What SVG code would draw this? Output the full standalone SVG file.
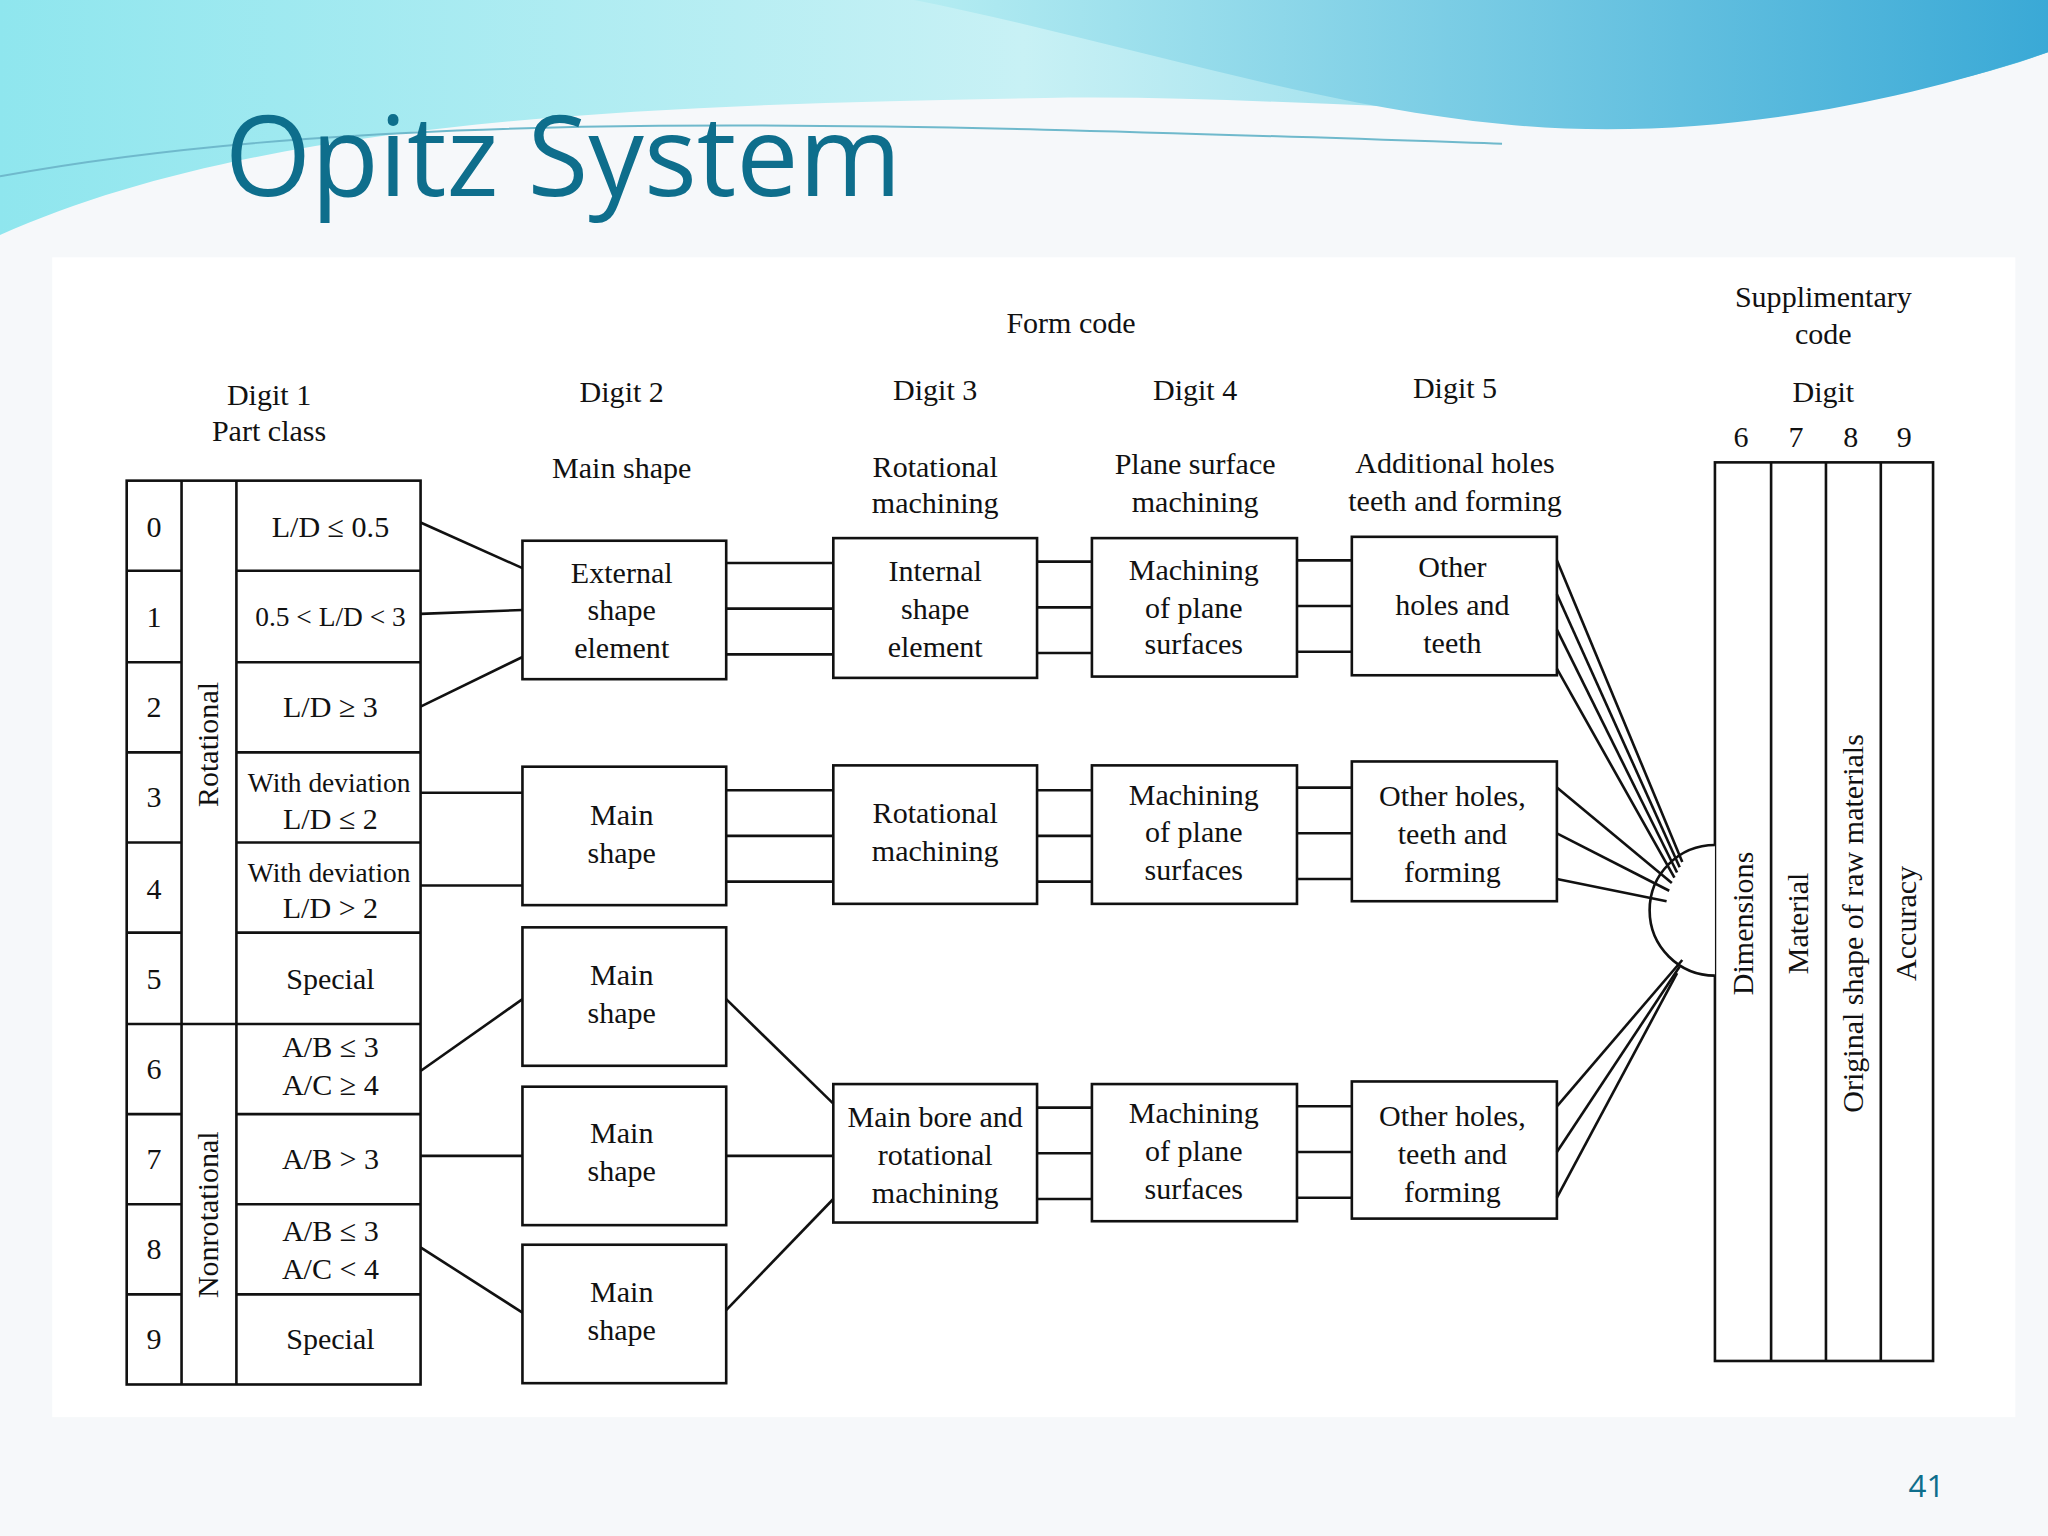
<svg xmlns="http://www.w3.org/2000/svg" width="2048" height="1536" viewBox="0 0 2048 1536">
<defs>
<linearGradient id="sky" x1="0" y1="0" x2="1" y2="0"><stop offset="0" stop-color="#8fe6ee"/><stop offset="0.5" stop-color="#c8f1f5"/><stop offset="1" stop-color="#5fc4e0"/></linearGradient>
<linearGradient id="sky2" x1="0" y1="0" x2="1" y2="0"><stop offset="0" stop-color="#b5edf2"/><stop offset="1" stop-color="#3aa9d6"/></linearGradient>
<style>
.b{fill:#fff;stroke:#111;stroke-width:2}
.l{stroke:#111;stroke-width:2;fill:none}
.t{font-family:"Liberation Serif",serif;font-size:23px;fill:#111;text-anchor:middle}
.s{font-size:21px}
.h{font-family:"Liberation Serif",serif;font-size:23px;fill:#111;text-anchor:middle}
</style>
</defs>
<g transform="scale(1.30612)">
<rect width="1568" height="1176" fill="#f6f8fa"/>
<path d="M0,0 H1568 V40 C1350,120 1050,70 800,75 C500,80 200,90 0,180 Z" fill="url(#sky)"/>
<path d="M700,0 H1568 V40 C1450,80 1300,110 1150,95 C1000,80 850,30 700,0 Z" fill="url(#sky2)"/>
<path d="M0,135 C300,80 700,95 1150,110" stroke="#6fb9cc" stroke-width="1.5" fill="none"/>
<rect x="40" y="197" width="1503" height="888" fill="#fff"/>
<text x="172" y="150" font-family="Open Sans, sans-serif" font-size="85" fill="#0e6e8c">Opitz System</text>
<text x="1475" y="1146" font-family="Open Sans, sans-serif" font-size="24" fill="#0e6e8c" text-anchor="middle">41</text>

<g id="headers">
<text class="h" x="820" y="255">Form code</text>
<text class="h" x="206" y="310">Digit 1</text><text class="h" x="206" y="338">Part class</text>
<text class="h" x="476" y="308">Digit 2</text><text class="h" x="476" y="366">Main shape</text>
<text class="h" x="716" y="306">Digit 3</text><text class="h" x="716" y="365">Rotational</text><text class="h" x="716" y="393">machining</text>
<text class="h" x="915" y="306">Digit 4</text><text class="h" x="915" y="363">Plane surface</text><text class="h" x="915" y="392">machining</text>
<text class="h" x="1114" y="305">Digit 5</text><text class="h" x="1114" y="362">Additional holes</text><text class="h" x="1114" y="391">teeth and forming</text>
<text class="h" x="1396" y="235">Supplimentary</text><text class="h" x="1396" y="263">code</text>
<text class="h" x="1396" y="308">Digit</text>
<text class="h" x="1333" y="342">6</text><text class="h" x="1375" y="342">7</text><text class="h" x="1417" y="342">8</text><text class="h" x="1458" y="342">9</text>
</g>

<g id="digit1">
<rect class="b" x="97" y="368" width="225" height="692"/>
<line class="l" x1="139" y1="368" x2="139" y2="1060"/><line class="l" x1="181" y1="368" x2="181" y2="1060"/>
<line class="l" x1="139" y1="784" x2="181" y2="784"/>
<g class="l">
<line x1="97" y1="437" x2="139" y2="437"/><line x1="181" y1="437" x2="322" y2="437"/>
<line x1="97" y1="507" x2="139" y2="507"/><line x1="181" y1="507" x2="322" y2="507"/>
<line x1="97" y1="576" x2="139" y2="576"/><line x1="181" y1="576" x2="322" y2="576"/>
<line x1="97" y1="645" x2="139" y2="645"/><line x1="181" y1="645" x2="322" y2="645"/>
<line x1="97" y1="714" x2="139" y2="714"/><line x1="181" y1="714" x2="322" y2="714"/>
<line x1="97" y1="784" x2="139" y2="784"/><line x1="181" y1="784" x2="322" y2="784"/>
<line x1="97" y1="853" x2="139" y2="853"/><line x1="181" y1="853" x2="322" y2="853"/>
<line x1="97" y1="922" x2="139" y2="922"/><line x1="181" y1="922" x2="322" y2="922"/>
<line x1="97" y1="991" x2="139" y2="991"/><line x1="181" y1="991" x2="322" y2="991"/>
</g>
<text class="t" x="118" y="411">0</text><text class="t" x="118" y="480">1</text><text class="t" x="118" y="549">2</text><text class="t" x="118" y="618">3</text><text class="t" x="118" y="688">4</text><text class="t" x="118" y="757">5</text><text class="t" x="118" y="826">6</text><text class="t" x="118" y="895">7</text><text class="t" x="118" y="964">8</text><text class="t" x="118" y="1033">9</text>
<text class="t" transform="translate(167,570) rotate(-90)">Rotational</text>
<text class="t" transform="translate(167,930) rotate(-90)">Nonrotational</text>
<text class="t" x="253" y="411">L/D ≤ 0.5</text>
<text class="t s" x="253" y="479">0.5 &lt; L/D &lt; 3</text>
<text class="t" x="253" y="549">L/D ≥ 3</text>
<text class="t s" x="252" y="606">With deviation</text><text class="t" x="253" y="635">L/D ≤ 2</text>
<text class="t s" x="252" y="675">With deviation</text><text class="t" x="253" y="703">L/D &gt; 2</text>
<text class="t" x="253" y="757">Special</text>
<text class="t" x="253" y="809">A/B ≤ 3</text><text class="t" x="253" y="838">A/C ≥ 4</text>
<text class="t" x="253" y="895">A/B &gt; 3</text>
<text class="t" x="253" y="950">A/B ≤ 3</text><text class="t" x="253" y="979">A/C &lt; 4</text>
<text class="t" x="253" y="1033">Special</text>
</g>

<g id="d2a"><rect class="b" x="400" y="414" width="156" height="106"/><text class="t" x="476" y="446">External</text><text class="t" x="476" y="475">shape</text><text class="t" x="476" y="504">element</text></g>
<g id="d2b"><rect class="b" x="400" y="587" width="156" height="106"/><text class="t" x="476" y="632">Main</text><text class="t" x="476" y="661">shape</text></g>
<g id="d2c"><rect class="b" x="400" y="710" width="156" height="106"/><text class="t" x="476" y="754">Main</text><text class="t" x="476" y="783">shape</text></g>
<g id="d2d"><rect class="b" x="400" y="832" width="156" height="106"/><text class="t" x="476" y="875">Main</text><text class="t" x="476" y="904">shape</text></g>
<g id="d2e"><rect class="b" x="400" y="953" width="156" height="106"/><text class="t" x="476" y="997">Main</text><text class="t" x="476" y="1026">shape</text></g>

<g id="d3a"><rect class="b" x="638" y="412" width="156" height="107"/><text class="t" x="716" y="445">Internal</text><text class="t" x="716" y="474">shape</text><text class="t" x="716" y="503">element</text></g>
<g id="d3b"><rect class="b" x="638" y="586" width="156" height="106"/><text class="t" x="716" y="630">Rotational</text><text class="t" x="716" y="659">machining</text></g>
<g id="d3c"><rect class="b" x="638" y="830" width="156" height="106"/><text class="t" x="716" y="863">Main bore and</text><text class="t" x="716" y="892">rotational</text><text class="t" x="716" y="921">machining</text></g>

<g id="d4a"><rect class="b" x="836" y="412" width="157" height="106"/><text class="t" x="914" y="444">Machining</text><text class="t" x="914" y="473">of plane</text><text class="t" x="914" y="501">surfaces</text></g>
<g id="d4b"><rect class="b" x="836" y="586" width="157" height="106"/><text class="t" x="914" y="616">Machining</text><text class="t" x="914" y="645">of plane</text><text class="t" x="914" y="674">surfaces</text></g>
<g id="d4c"><rect class="b" x="836" y="830" width="157" height="105"/><text class="t" x="914" y="860">Machining</text><text class="t" x="914" y="889">of plane</text><text class="t" x="914" y="918">surfaces</text></g>

<g id="d5a"><rect class="b" x="1035" y="411" width="157" height="106"/><text class="t" x="1112" y="442">Other</text><text class="t" x="1112" y="471">holes and</text><text class="t" x="1112" y="500">teeth</text></g>
<g id="d5b"><rect class="b" x="1035" y="583" width="157" height="107"/><text class="t" x="1112" y="617">Other holes,</text><text class="t" x="1112" y="646">teeth and</text><text class="t" x="1112" y="675">forming</text></g>
<g id="d5c"><rect class="b" x="1035" y="828" width="157" height="105"/><text class="t" x="1112" y="862">Other holes,</text><text class="t" x="1112" y="891">teeth and</text><text class="t" x="1112" y="920">forming</text></g>

<g id="supp">
<rect class="b" x="1313" y="354" width="167" height="688"/>
<line class="l" x1="1356" y1="354" x2="1356" y2="1042"/><line class="l" x1="1398" y1="354" x2="1398" y2="1042"/><line class="l" x1="1440" y1="354" x2="1440" y2="1042"/>
<path d="M1313,647 A50,50 0 0 0 1313,747" class="b"/>
<text class="t" transform="translate(1342,707) rotate(-90)">Dimensions</text>
<text class="t" transform="translate(1384,707) rotate(-90)">Material</text>
<text class="t" transform="translate(1426,707) rotate(-90)">Original shape of raw materials</text>
<text class="t" transform="translate(1467,707) rotate(-90)">Accuracy</text>
</g>

<g id="connectors" class="l">
<line x1="322" y1="400" x2="400" y2="435"/>
<line x1="322" y1="470" x2="400" y2="467"/>
<line x1="322" y1="541" x2="400" y2="503"/>
<line x1="322" y1="607" x2="400" y2="607"/>
<line x1="322" y1="678" x2="400" y2="678"/>
<line x1="322" y1="820" x2="400" y2="765"/>
<line x1="322" y1="885" x2="400" y2="885"/>
<line x1="322" y1="955" x2="400" y2="1005"/>
<line x1="556" y1="431" x2="638" y2="431"/><line x1="556" y1="466" x2="638" y2="466"/><line x1="556" y1="501" x2="638" y2="501"/>
<line x1="556" y1="605" x2="638" y2="605"/><line x1="556" y1="640" x2="638" y2="640"/><line x1="556" y1="675" x2="638" y2="675"/>
<line x1="556" y1="765" x2="638" y2="845"/><line x1="556" y1="885" x2="638" y2="885"/><line x1="556" y1="1003" x2="638" y2="918"/>
<line x1="794" y1="430" x2="836" y2="430"/><line x1="794" y1="465" x2="836" y2="465"/><line x1="794" y1="500" x2="836" y2="500"/>
<line x1="794" y1="605" x2="836" y2="605"/><line x1="794" y1="640" x2="836" y2="640"/><line x1="794" y1="675" x2="836" y2="675"/>
<line x1="794" y1="848" x2="836" y2="848"/><line x1="794" y1="883" x2="836" y2="883"/><line x1="794" y1="918" x2="836" y2="918"/>
<line x1="993" y1="429" x2="1035" y2="429"/><line x1="993" y1="464" x2="1035" y2="464"/><line x1="993" y1="499" x2="1035" y2="499"/>
<line x1="993" y1="603" x2="1035" y2="603"/><line x1="993" y1="638" x2="1035" y2="638"/><line x1="993" y1="673" x2="1035" y2="673"/>
<line x1="993" y1="847" x2="1035" y2="847"/><line x1="993" y1="882" x2="1035" y2="882"/><line x1="993" y1="917" x2="1035" y2="917"/>
<line x1="1192" y1="429" x2="1288" y2="660"/><line x1="1192" y1="455" x2="1286" y2="664"/><line x1="1192" y1="482" x2="1284" y2="668"/><line x1="1192" y1="512" x2="1282" y2="672"/>
<line x1="1192" y1="603" x2="1280" y2="676"/><line x1="1192" y1="638" x2="1278" y2="682"/><line x1="1192" y1="673" x2="1276" y2="690"/>
<line x1="1192" y1="847" x2="1288" y2="735"/><line x1="1192" y1="882" x2="1286" y2="740"/><line x1="1192" y1="917" x2="1284" y2="745"/>
</g>
</g>
</svg>
